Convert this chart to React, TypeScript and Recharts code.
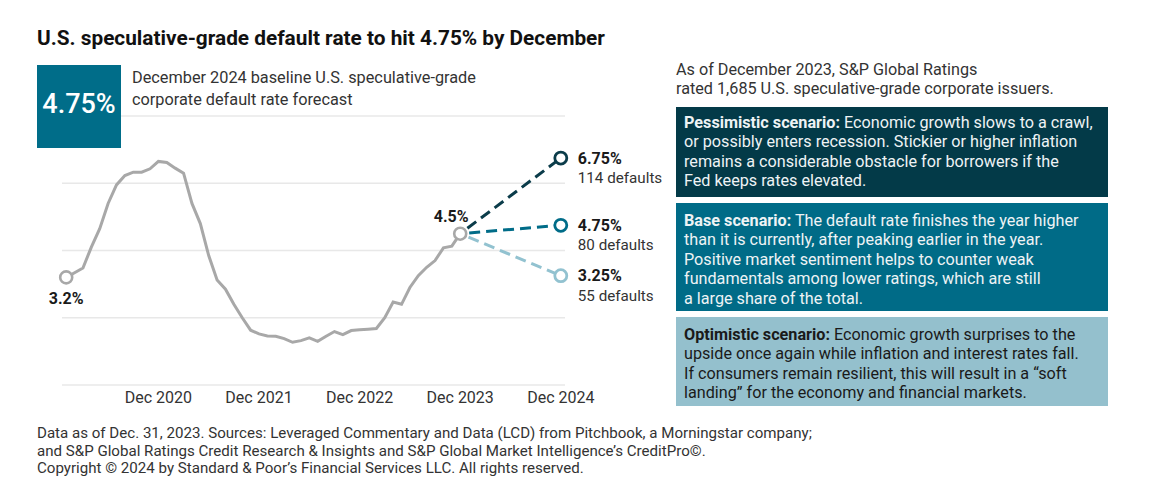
import React from "react";
import { CartesianGrid, ComposedChart, Line, XAxis, YAxis } from "recharts";

// monthly default rate, Jan 2020 .. Dec 2023 (month index 1..48)
const HISTORY = [
  3.2, 3.34, 3.48, 4.1, 4.65, 5.4, 5.95, 6.23, 6.33, 6.33, 6.43, 6.65,
  6.62, 6.45, 6.3, 5.4, 4.8, 3.85, 3.12, 2.85, 2.4, 2.0, 1.63, 1.52,
  1.46, 1.45, 1.38, 1.27, 1.32, 1.4, 1.3, 1.45, 1.59, 1.5, 1.62, 1.64,
  1.66, 1.68, 2.0, 2.47, 2.4, 2.9, 3.25, 3.5, 3.7, 4.08, 4.13, 4.5,
];

const TICK_MONTHS = [12, 24, 36, 48, 60];
const TICK_LABELS = ["Dec 2020", "Dec 2021", "Dec 2022", "Dec 2023", "Dec 2024"];
const Y_TICKS = [0, 2, 4, 6, 8];

const SCENARIO_KEYS = ["pess", "base", "opt"];
const SCENARIO_END = [6.75, 4.75, 3.25];
const SCENARIO_DEFAULTS = [114, 80, 55];
const SCENARIO_COLORS = ["#0b3c4a", "#006c88", "#92c2d0"];
const START_MONTH = 48;
const END_MONTH = 60;

const GREY = "#a8a8a8";
const FONT = "Roboto, 'Noto Sans', sans-serif";

const tabela = Array.from({ length: END_MONTH }, (_, i) => {
  const m = i + 1;
  const linha: Record<string, number | null> = { m, hist: HISTORY[i] ?? null };
  SCENARIO_KEYS.forEach((k, j) => {
    linha[k] = m === START_MONTH ? HISTORY[HISTORY.length - 1] : m === END_MONTH ? SCENARIO_END[j] : null;
  });
  return linha;
});

function fmt(v: number) {
  return `${v}%`;
}

function HistDot(props: any) {
  const { cx, cy, index } = props;
  if (index !== 0 && index !== HISTORY.length - 1) return <g key={index} />;
  const v = HISTORY[index];
  return (
    <g key={index}>
      <circle cx={cx} cy={cy} r={6} fill="#fff" stroke={GREY} strokeWidth={2.6} />
      {index === 0 ? (
        <text x={cx} y={cy + 27} textAnchor="middle" fontSize={16} fontWeight={700} fill="#1a1a1a" fontFamily={FONT}>
          {fmt(v)}
        </text>
      ) : (
        <text x={cx - 9} y={cy - 12} textAnchor="middle" fontSize={16} fontWeight={700} fill="#1a1a1a" fontFamily={FONT}>
          {fmt(v)}
        </text>
      )}
    </g>
  );
}

function makeEndDot(j: number) {
  return (props: any) => {
    const { cx, cy, index } = props;
    if (index !== END_MONTH - 1) return <g key={index} />;
    return (
      <g key={index}>
        <circle cx={cx} cy={cy} r={6} fill="#fff" stroke={SCENARIO_COLORS[j]} strokeWidth={2.8} />
        <text x={cx + 17} y={cy + 5.5} fontSize={16} fontWeight={700} fill="#1a1a1a" fontFamily={FONT}>
          {fmt(SCENARIO_END[j])}
        </text>
        <text x={cx + 17} y={cy + 25} fontSize={15.2} fill="#333" fontFamily={FONT}>
          {SCENARIO_DEFAULTS[j]} defaults
        </text>
      </g>
    );
  };
}

const caixas = [
  {
    titulo: "Pessimistic scenario:",
    linhas: [
      " Economic growth slows to a crawl,",
      "or possibly enters recession. Stickier or higher inflation",
      "remains a considerable obstacle for borrowers if the",
      "Fed keeps rates elevated.",
    ],
    fundo: "#033a48",
    cor: "#eef3f5",
    top: 107,
    h: 90,
    pad: 6,
  },
  {
    titulo: "Base scenario:",
    linhas: [
      " The default rate finishes the year higher",
      "than it is currently, after peaking earlier in the year.",
      "Positive market sentiment helps to counter weak",
      "fundamentals among lower ratings, which are still",
      "a large share of the total.",
    ],
    fundo: "#006b87",
    cor: "#eef3f5",
    top: 203,
    h: 108,
    pad: 8,
  },
  {
    titulo: "Optimistic scenario:",
    linhas: [
      " Economic growth surprises to the",
      "upside once again while inflation and interest rates fall.",
      "If consumers remain resilient, this will result in a \u201csoft",
      "landing\u201d for the economy and financial markets.",
    ],
    fundo: "#94c0cd",
    cor: "#1a1a1a",
    top: 317,
    h: 89,
    pad: 8,
  },
];

export default function App() {
  return (
    <div style={{ position: "relative", width: 1153, height: 481, background: "#fff", fontFamily: FONT, color: "#333", overflow: "hidden" }}>
      <style>{`body{margin:0}`}</style>

      <div style={{ position: "absolute", left: 37, top: 26, fontSize: 20.8, fontWeight: 700, color: "#111", whiteSpace: "nowrap" }}>
        U.S. speculative-grade default rate to hit 4.75% by December
      </div>

      <div style={{ position: "absolute", left: 0, top: 0 }}>
        <ComposedChart width={700} height={420} data={tabela} margin={{ top: 116, right: 135, bottom: 0, left: 62 }}>
          <CartesianGrid vertical={false} stroke="#e8e8e8" strokeWidth={1.5} />
          <XAxis
            dataKey="m"
            type="number"
            domain={[0.5, 60.5]}
            ticks={TICK_MONTHS}
            tickFormatter={(m: number) => TICK_LABELS[TICK_MONTHS.indexOf(m)]}
            axisLine={false}
            tickLine={false}
            tickSize={0}
            tickMargin={7}
            height={35}
            tick={{ fill: "#333", fontSize: 16, fontFamily: FONT }}
          />
          <YAxis hide domain={[0, 8]} ticks={Y_TICKS} />
          {SCENARIO_KEYS.map((k, j) => (
            <Line
              key={k}
              dataKey={k}
              type="linear"
              connectNulls
              stroke={SCENARIO_COLORS[j]}
              strokeWidth={3}
              strokeDasharray="11 6"
              strokeDashoffset={8}
              dot={makeEndDot(j)}
              activeDot={false}
              isAnimationActive={false}
            />
          ))}
          <Line
            dataKey="hist"
            type="linear"
            stroke={GREY}
            strokeWidth={3}
            dot={HistDot}
            activeDot={false}
            isAnimationActive={false}
          />
        </ComposedChart>
      </div>

      <div style={{ position: "absolute", left: 37, top: 65, width: 84, height: 83, background: "#006d89" }} />
      <div style={{ position: "absolute", left: 37, top: 88, width: 84, textAlign: "center", fontSize: 27, fontWeight: 500, color: "#fff" }}>
        4.75%
      </div>
      <div style={{ position: "absolute", left: 132, top: 67, fontSize: 16.3, lineHeight: "22px", color: "#333", whiteSpace: "nowrap" }}>
        December 2024 baseline U.S. speculative-grade
        <br />
        corporate default rate forecast
      </div>

      <div style={{ position: "absolute", left: 676, top: 61, fontSize: 16.2, lineHeight: "18.5px", color: "#333", whiteSpace: "nowrap" }}>
        As of December 2023, S&amp;P Global Ratings
        <br />
        rated 1,685 U.S. speculative-grade corporate issuers.
      </div>

      {caixas.map((c) => (
        <div
          key={c.titulo}
          style={{
            position: "absolute",
            left: 676,
            top: c.top,
            width: 432,
            height: c.h,
            boxSizing: "border-box",
            padding: `${c.pad}px 8px`,
            background: c.fundo,
            color: c.cor,
            fontSize: 16.2,
            lineHeight: "19.4px",
            whiteSpace: "nowrap",
          }}
        >
          {c.linhas.map((l, i) => (
            <div key={i}>
              {i === 0 && <b>{c.titulo}</b>}
              {l}
            </div>
          ))}
        </div>
      ))}

      <div style={{ position: "absolute", left: 37, top: 425, fontSize: 15.1, lineHeight: "17.5px", color: "#333", whiteSpace: "nowrap" }}>
        Data as of Dec. 31, 2023. Sources: Leveraged Commentary and Data (LCD) from Pitchbook, a Morningstar company;
        <br />
        and S&amp;P Global Ratings Credit Research &amp; Insights and S&amp;P Global Market Intelligence’s CreditPro©.
        <br />
        Copyright © 2024 by Standard &amp; Poor’s Financial Services LLC. All rights reserved.
      </div>
    </div>
  );
}
